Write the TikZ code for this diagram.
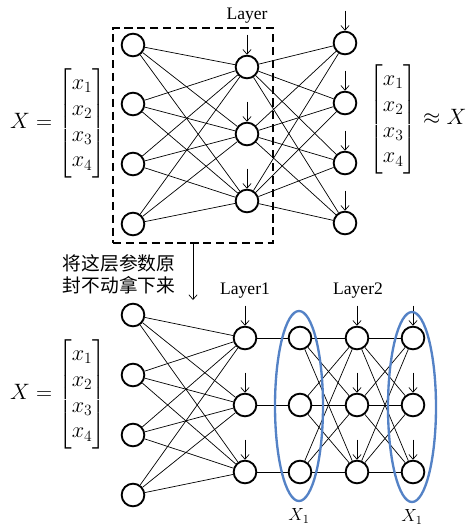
\RequirePackage{fix-cm}
\documentclass[tikz,border=0pt]{standalone}
\usepackage{amsmath}
\usepackage{fontspec}
\setmainfont{Liberation Serif}
\newfontfamily\cjk{Noto Sans CJK SC}
\usepackage{tikz}
\usetikzlibrary{positioning, arrows.meta, shapes.geometric}
\definecolor{ringblue}{RGB}{84,130,198}
\tikzset{
  neuron/.style={draw, circle, line width=1.6pt, fill=white, minimum size=0.68cm, inner sep=0pt},
  wire/.style={line width=0.6pt},
  feed/.style={-{Straight Barb[length=4pt,width=7pt]}, line width=0.6pt},
  frame/.style={draw, dash pattern=on 7pt off 4pt, line width=1.6pt,
                minimum width=4.8cm, minimum height=6.45cm},
  ring/.style={draw=ringblue, ellipse, line width=2pt, inner sep=0pt,
               minimum width=1.44cm, minimum height=5.7cm},
  tag/.style={font=\fontsize{15}{18}\selectfont},
  vec/.style={font=\fontsize{19}{22}\selectfont, inner sep=0pt},
  note/.style={font=\cjk\fontsize{16}{18.7}\selectfont, align=center}
}

\begin{document}
\begin{tikzpicture}[x=0.03cm, y=-0.03cm]
  \useasboundingbox (0,0) rectangle (474,526);
  % autoencoder
  \foreach \i/\y in {1/45,2/104,3/164,4/224} \node[neuron] (in\i) at (133,\y) {};
  \foreach \i/\y in {1/67,2/134,3/201} \node[neuron] (hid\i) at (247,\y) {};
  \foreach \i/\y in {1/43,2/103,3/163,4/223} \node[neuron] (out\i) at (345,\y) {};
  \node[tag] (lyr) at (247,16) {Layer};
  \node[frame] (box) at (193,135.5) {};
  \node[vec] (xtop) at (58,123) {$X=\begin{bmatrix}x_1\\x_2\\x_3\\x_4\end{bmatrix}$};
  \node[vec] (xrec) at (418,119) {$\begin{bmatrix}x_1\\x_2\\x_3\\x_4\end{bmatrix}\approx X$};
  \foreach \i in {1,...,4} \foreach \j in {1,2,3} \draw[wire] (in\i) -- (hid\j);
  \foreach \i in {1,2,3} \foreach \j in {1,...,4} \draw[wire] (hid\i) -- (out\j);
  \foreach \i in {1,2,3} {
    \path (hid\i.north) ++(0,-20) coordinate (fh\i);
    \draw[feed] (fh\i) -- (hid\i);
  }
  \foreach \i in {1,...,4} {
    \path (out\i.north) ++(0,-20) coordinate (fo\i);
    \draw[feed] (fo\i) -- (out\i);
  }
  % keep the layer
  \coordinate (down) at (193,300);
  \draw[feed] (box.south) -- (down);
  \node[note] (freeze) at (119,274) {将这层参数原\\封不动拿下来};
  % stacked network
  \foreach \i/\y in {1/315,2/375,3/435,4/495} \node[neuron] (bin\i) at (133,\y) {};
  \foreach \i/\y in {1/338,2/405,3/472} {
    \node[neuron] (la\i) at (245,\y) {};
    \node[neuron] (xa\i) at (300,\y) {};
    \node[neuron] (lb\i) at (357,\y) {};
    \node[neuron] (xb\i) at (413,\y) {};
  }
  \node[tag] (lyr1) at (245,291) {Layer1};
  \node[tag] (lyr2) at (358,291) {Layer2};
  \node[vec] (xbot) at (58,394) {$X=\begin{bmatrix}x_1\\x_2\\x_3\\x_4\end{bmatrix}$};
  \foreach \i in {1,...,4} \foreach \j in {1,2,3} \draw[wire] (bin\i) -- (la\j);
  \foreach \i in {1,2,3} \draw[wire] (la\i) -- (xa\i);
  \foreach \i in {1,2,3} \foreach \j in {1,2,3} {
    \draw[wire] (xa\i) -- (lb\j);
    \draw[wire] (lb\i) -- (xb\j);
  }
  \foreach \n in {la,lb,xb} \foreach \i in {1,2,3} {
    \path (\n\i.north) ++(0,-20) coordinate (f\n\i);
    \draw[feed] (f\n\i) -- (\n\i);
  }
  % highlighted codes
  \node[ring] (ea) at (299,406) {};
  \node[ring] (eb) at (412,407) {};
  \node[tag, below=2pt of ea] (ca) {$X_1$};
  \node[tag, below=2pt of eb] (cb) {$X_1$};
\end{tikzpicture}
\end{document}
